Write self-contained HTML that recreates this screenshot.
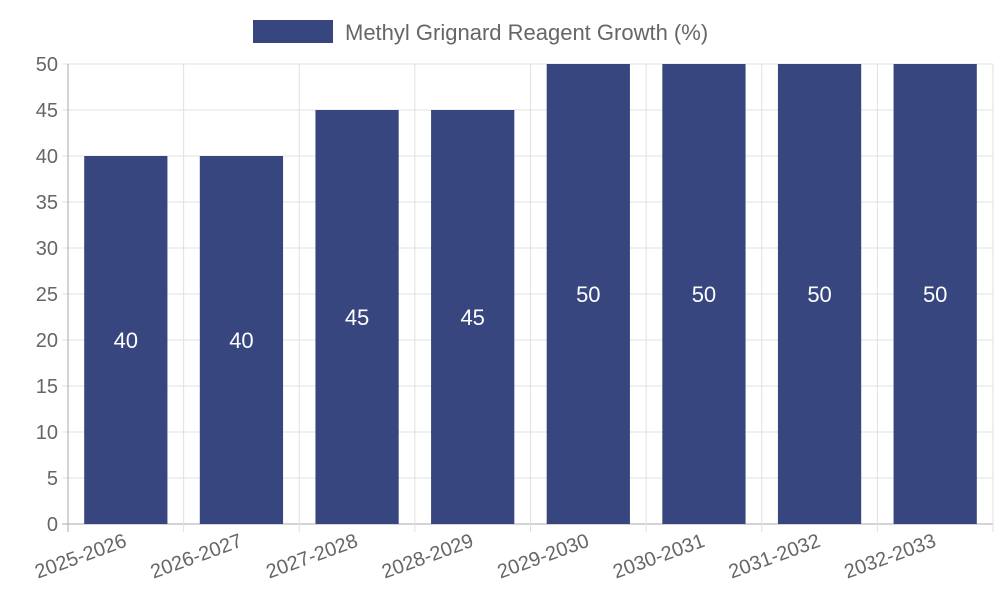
<!DOCTYPE html>
<html><head><meta charset="utf-8"><style>
body{margin:0;background:#fff;}
svg{display:block;font-family:"Liberation Sans",sans-serif;}
</style></head><body>
<svg id="chart" width="1000" height="600">
<g id="grid"></g><g id="bars"></g><g id="labels"></g>
<g>
<rect x="253" y="20" width="80" height="23" fill="#37467f"/>
<text x="345" y="40" font-size="22" fill="#666">Methyl Grignard Reagent Growth (%)</text>
</g>
</svg>
<script>
const categories=["2025-2026","2026-2027","2027-2028","2028-2029","2029-2030","2030-2031","2031-2032","2032-2033"];
const values=[40,40,45,45,50,50,50,50];
const yTicks=[0,5,10,15,20,25,30,35,40,45,50];
const X0=68,X1=993,Y0=524,Y1=64,YMAX=50;
const bw=(X1-X0)/categories.length;
const y=v=>Y0-(Y0-Y1)*v/YMAX;
const xc=i=>X0+bw*(i+0.5);
const NS="http://www.w3.org/2000/svg";
function mk(t,a,p){const e=document.createElementNS(NS,t);for(const k in a)e.setAttribute(k,a[k]);p.appendChild(e);return e;}
const g=document.getElementById('grid'),b=document.getElementById('bars'),l=document.getElementById('labels');
yTicks.forEach(v=>{
 const ln=mk('line',{x1:X0-6,x2:X1,y1:y(v),y2:y(v),stroke:v===0?'#aaa':'#e0e0e0','stroke-width':1},g);
 
 
 const t=mk('text',{x:X0-10,y:y(v)+7,'text-anchor':'end','font-size':20,fill:'#666'},l);
 t.textContent=v;
 
 
});
for(let i=0;i<=categories.length;i++){
 const xx=X0+bw*i;
 const ln=mk('line',{x1:xx,x2:xx,y1:Y1,y2:Y0+8,stroke:i===0?'#aaa':'#e0e0e0','stroke-width':1},g);
 
 
}
categories.forEach((c,i)=>{
 const w=bw*0.72;
 const r=mk('rect',{x:xc(i)-w/2,y:y(values[i]),width:w,height:Y0-y(values[i]),fill:'#37467f'},b);
 
 
 const vt=mk('text',{x:xc(i),y:(y(values[i])+Y0)/2+8,'text-anchor':'middle','font-size':22,fill:'#fff'},l);
 vt.textContent=values[i];
 
 
 const xt=mk('text',{x:0,y:0,'text-anchor':'end','font-size':20,fill:'#666',transform:`translate(${xc(i)+2},${Y0+22}) rotate(-20)`},l);
 xt.textContent=c;
 
 
});
</script>
</body></html>
